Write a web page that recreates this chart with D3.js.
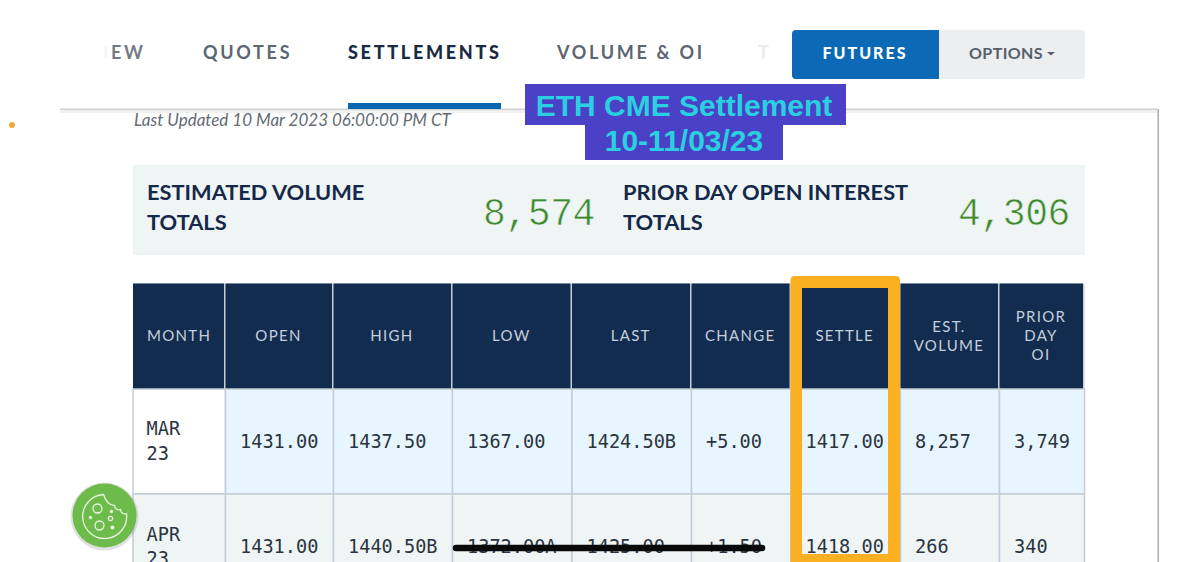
<!DOCTYPE html>
<html>
<head>
<meta charset="utf-8">
<script src="https://cdn.jsdelivr.net/npm/d3@7"></script>
<style>
    html, body { margin: 0; padding: 0; background: #fff; overflow: hidden; }
    svg { display: block; }
    .sans { font-family: Lato, "Noto Sans", sans-serif; }
    .mono { font-family: "DejaVu Sans Mono", monospace; }
</style>
</head>
<body>
<div id="chart"></div>
<script>
// table values
const columns = ["MONTH", "OPEN", "HIGH", "LOW", "LAST", "CHANGE", "SETTLE", "EST.|VOLUME", "PRIOR|DAY|OI"];
const months = ["MAR|23", "APR|23"];
const open = ["1431.00", "1431.00"];
const high = ["1437.50", "1440.50B"];
const low = ["1367.00", "1372.00A"];
const last = ["1424.50B", "1425.00"];
const change = ["+5.00", "+1.50"];
const settle = ["1417.00", "1418.00"];
const estVolume = ["8,257", "266"];
const priorOi = ["3,749", "340"];

const totalLabels = ["ESTIMATED VOLUME|TOTALS", "PRIOR DAY OPEN INTEREST|TOTALS"];
const totalValues = ["8,574", "4,306"];
const tabs = ["IEW", "QUOTES", "SETTLEMENTS", "VOLUME & OI", "T"];

const width = 1200;
const height = 562;

const canvas = d3.select("#chart")
    .append("svg")
    .attr("width", width)
    .attr("height", height);

/* column and row edges of the table */
const colEdges = [133, 225.5, 333.5, 452.5, 572, 691.5, 791, 900.5, 999.5, 1084.5];
const rowEdges = [283.5, 389, 494, 600];

const xScale = d3.scaleOrdinal().domain(columns).range(colEdges);
const colWidth = function(i) { return colEdges[i + 1] - colEdges[i]; };

const rows = months.map(function(m, i) {
    return [m, open[i], high[i], low[i], last[i], change[i], settle[i], estVolume[i], priorOi[i]];
});

const navy = "#122c4f";
const ink = "#2b3440";

/* page frame */
canvas.append("rect").attr("x", 60).attr("y", 110).attr("width", 1098).attr("height", 3).attr("fill", "#f0f0f0");
canvas.append("rect").attr("x", 60).attr("y", 108.5).attr("width", 1098).attr("height", 1.5).attr("fill", "#cfd1d3");
canvas.append("rect").attr("x", 1157.5).attr("y", 109).attr("width", 1.5).attr("height", 453).attr("fill", "#a9adb3");
canvas.append("circle").attr("cx", 12).attr("cy", 125).attr("r", 3).attr("fill", "#f2a93b");

/* tabs */
const tabX = [103, 203, 348, 557, 758];
const tabOpacity = { "IEW": 0.85, "T": 0.12 };
canvas.selectAll(".tab")
    .data(tabs)
    .enter()
    .append("text")
    .attr("class", "tab sans")
    .attr("x", function(d, i) { return tabX[i]; })
    .attr("y", 59)
    .attr("font-size", 18)
    .attr("letter-spacing", 2.7)
    .attr("font-weight", function(d) { return d === "SETTLEMENTS" ? 900 : 700; })
    .attr("fill", function(d) { return d === "SETTLEMENTS" ? "#1b2a44" : "#5c6570"; })
    .attr("opacity", function(d) { return tabOpacity[d] || 1; })
    .text(function(d) { return d; });
// fade the clipped start of the first tab
canvas.append("rect").attr("x", 100).attr("y", 40).attr("width", 12).attr("height", 24).attr("fill", "#fff").attr("opacity", 0.92);
canvas.append("rect").attr("x", 348).attr("y", 103).attr("width", 153).attr("height", 6).attr("fill", "#0b66b0");

/* futures / options switch */
canvas.append("rect").attr("x", 792).attr("y", 30).attr("width", 293).attr("height", 49).attr("rx", 4).attr("fill", "#eceef0");
canvas.append("path").attr("d", "M939 30H796a4 4 0 0 0-4 4V75a4 4 0 0 0 4 4H939Z").attr("fill", "#0b69b5");
canvas.append("text").attr("class", "sans").attr("x", 865).attr("y", 59).attr("text-anchor", "middle")
    .attr("font-size", 16).attr("font-weight", 900).attr("letter-spacing", 2).attr("fill", "#fff").text("FUTURES");
canvas.append("text").attr("class", "sans").attr("x", 969).attr("y", 59)
    .attr("font-size", 16).attr("font-weight", 700).attr("letter-spacing", 0.4).attr("fill", "#56606b").text("OPTIONS");
canvas.append("path").attr("d", "M1047 52h8l-4 3.5Z").attr("fill", "#56606b");

canvas.append("text").attr("class", "sans").attr("x", 134).attr("y", 126)
    .attr("font-size", 17).attr("font-style", "italic").attr("fill", "#646b74")
    .text("Last Updated 10 Mar 2023 06:00:00 PM CT");

/* totals band */
canvas.append("rect").attr("x", 133).attr("y", 165).attr("width", 952).attr("height", 90).attr("fill", "#eff4f5");
const labelX = [147, 623];
const valueRight = [595, 1070];
totalLabels.forEach(function(label, i) {
    label.split("|").forEach(function(line, j) {
        canvas.append("text").attr("class", "sans")
            .attr("x", labelX[i]).attr("y", 200 + j * 30)
            .attr("font-size", 21.8).attr("font-weight", 700).attr("fill", "#14284a")
            .text(line);
    });
    // band coloured outline thins the digits
    canvas.append("text")
        .attr("x", valueRight[i]).attr("y", 225)
        .attr("text-anchor", "end")
        .attr("font-family", "Liberation Mono, monospace")
        .attr("font-size", 38)
        .attr("letter-spacing", -0.4)
        .attr("fill", "#3f8a2e")
        .attr("stroke", "#eff4f5")
        .attr("stroke-width", 0.6)
        .text(totalValues[i]);
});

/* table header */
const tableG = canvas.append("g");
tableG.append("rect")
    .attr("x", colEdges[0]).attr("y", rowEdges[0])
    .attr("width", colEdges[9] - colEdges[0]).attr("height", rowEdges[1] - rowEdges[0])
    .attr("fill", "#c4ccd8");
tableG.selectAll(".head")
    .data(columns)
    .enter()
    .append("rect")
    .attr("class", "head")
    .attr("x", function(d) { return xScale(d); })
    .attr("y", rowEdges[0])
    .attr("width", function(d, i) { return colWidth(i) - 1.5; })
    .attr("height", rowEdges[1] - rowEdges[0])
    .attr("fill", navy);

columns.forEach(function(col, i) {
    const lines = col.split("|");
    const mid = (rowEdges[0] + rowEdges[1]) / 2 + 5;
    lines.forEach(function(line, j) {
        tableG.append("text").attr("class", "sans")
            .attr("x", i === 0 ? 147 : colEdges[i] + colWidth(i) / 2 - 1)
            .attr("y", mid + (j - (lines.length - 1) / 2) * 19)
            .attr("text-anchor", i === 0 ? "start" : "middle")
            .attr("font-size", 15)
            .attr("letter-spacing", 1.3)
            .attr("fill", "#c3cfdc")
            .text(line);
    });
});

/* table body */
const rowFill = ["#e7f6fe", "#eff4f5"];
rows.forEach(function(row, r) {
    const y0 = rowEdges[r + 1];
    const y1 = rowEdges[r + 2];
    row.forEach(function(cell, c) {
        tableG.append("rect")
            .attr("x", colEdges[c])
            .attr("y", y0)
            .attr("width", colWidth(c))
            .attr("height", y1 - y0)
            .attr("fill", c === 0 && r === 0 ? "#fff" : rowFill[r])
            .attr("stroke", "#c4ccd8")
            .attr("stroke-width", 1.5);
        const lines = cell.split("|");
        const textX = c === 0 ? 146.5 : colEdges[c] + 14.5;
        const textMid = (y0 + y1) / 2 + 6;
        lines.forEach(function(line, j) {
            tableG.append("text").attr("class", "mono")
                .attr("x", textX)
                .attr("y", textMid + (j - (lines.length - 1) / 2) * 24.5)
                .attr("font-size", 18.6)
                .attr("fill", ink)
                .text(line);
        });
    });
});

/* orange highlight around settle */
canvas.append("path")
    .attr("fill-rule", "evenodd")
    .attr("fill", "#fbb021")
    .attr("d", "M794 276H896a4 4 0 0 1 4 4V600H790.5V280a4 4 0 0 1 3.5-4Z M802 288V554H888V288Z");

/* black scribble across the second row */
canvas.append("line")
    .attr("x1", 456).attr("x2", 762)
    .attr("y1", 548).attr("y2", 548)
    .attr("stroke", "#0a0a0a")
    .attr("stroke-width", 6.5)
    .attr("stroke-linecap", "round");

/* cookie button */
const cookie = canvas.append("g").attr("transform", "translate(104.5,515.5)");
cookie.append("circle").attr("r", 34).attr("fill", "#000").attr("opacity", 0.12).attr("cy", 1);
cookie.append("circle").attr("r", 32).attr("fill", "#6cbb4b");
const cookieLine = { fill: "none", stroke: "#e8f5df", "stroke-width": 1.3 };
const addPath = function(d) {
    const p = cookie.append("path").attr("d", d);
    Object.keys(cookieLine).forEach(function(k) { p.attr(k, cookieLine[k]); });
};
addPath("M-1-21A22 22 0 1 0 22-2C19-1 16-3 16-6 13-5 10-7 10-10 5-10 1-15-1-21Z");
[[-7, -7, 4.5], [-5, 10, 4.5], [6, 3, 2.2]].forEach(function(c) {
    addPath(`M${c[0] - c[2]} ${c[1]}a${c[2]} ${c[2]} 0 1 0 ${c[2] * 2} 0a${c[2]} ${c[2]} 0 1 0 ${-c[2] * 2} 0Z`);
});
[[-14, 2, 1.7], [7, -4, 1.7], [8, 12, 2]].forEach(function(c) {
    cookie.append("circle").attr("cx", c[0]).attr("cy", c[1]).attr("r", c[2]).attr("fill", "#e8f5df");
});

/* banner over the page */
canvas.append("rect").attr("x", 525).attr("y", 84).attr("width", 321).attr("height", 41).attr("fill", "#4a41c7");
canvas.append("rect").attr("x", 585).attr("y", 125).attr("width", 198).attr("height", 35).attr("fill", "#4a41c7");
canvas.append("text").attr("x", 684).attr("y", 116).attr("text-anchor", "middle")
    .attr("font-family", "Liberation Sans, sans-serif").attr("font-weight", 700).attr("font-size", 30)
    .attr("fill", "#2ad0df").text("ETH CME Settlement");
canvas.append("text").attr("x", 684).attr("y", 151).attr("text-anchor", "middle")
    .attr("font-family", "Liberation Sans, sans-serif").attr("font-weight", 700).attr("font-size", 30)
    .attr("fill", "#2ad0df").text("10-11/03/23");
</script>
</body>
</html>
